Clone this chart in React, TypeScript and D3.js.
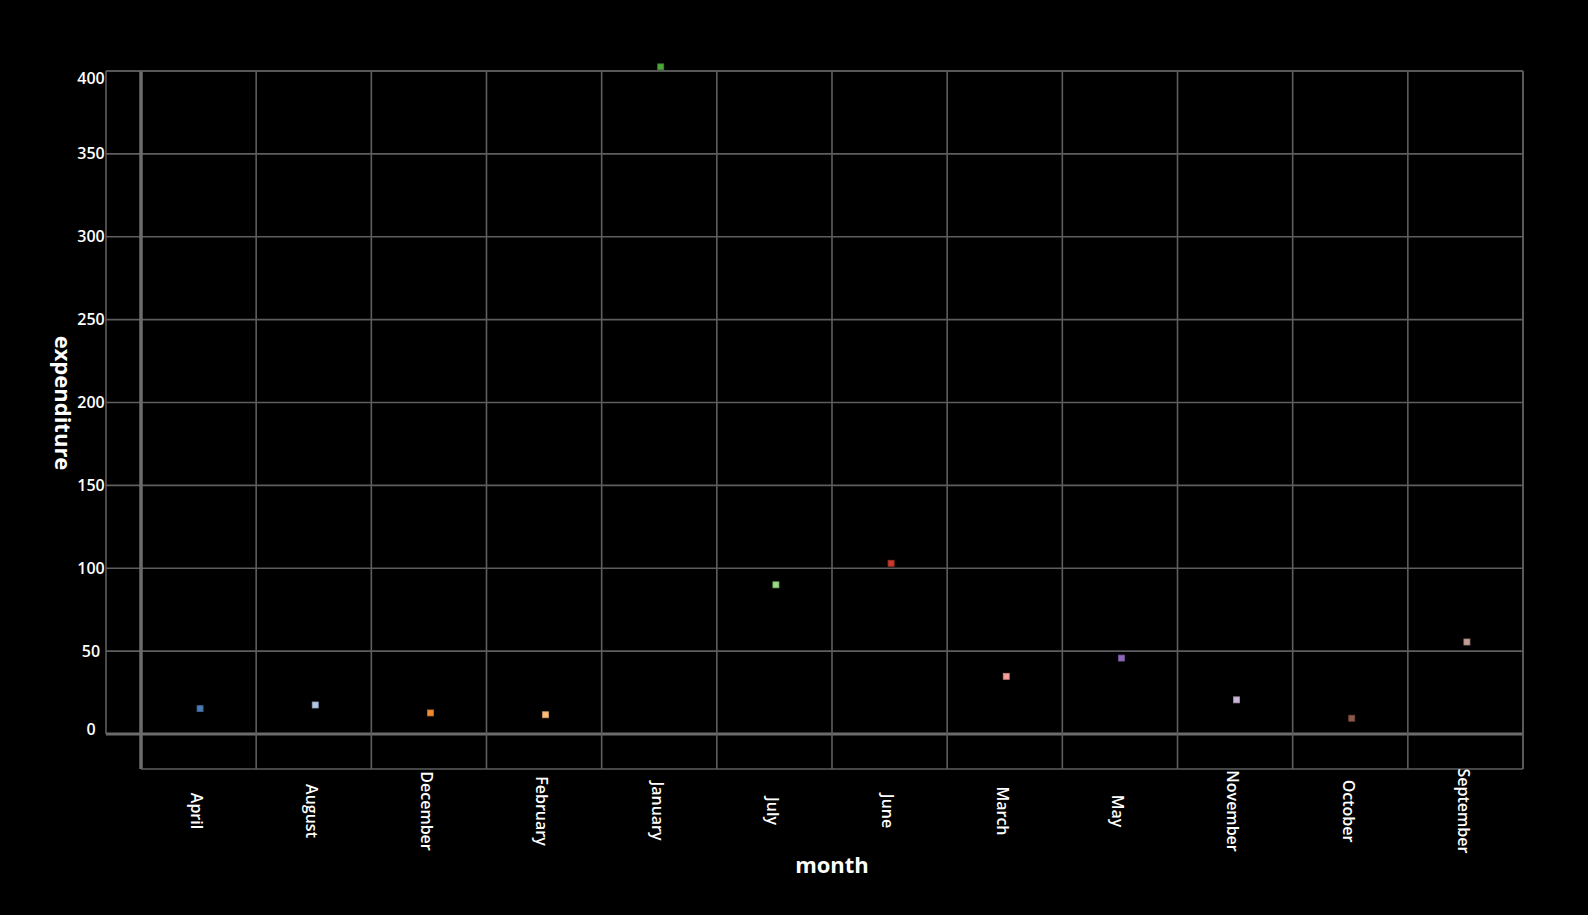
import React from "react";
import * as d3 from "d3";

const months = ["April", "August", "December", "February", "January", "July", "June", "March", "May", "November", "October", "September"];
const expenditure = [15.3, 17.5, 12.7, 11.6, 402.5, 90, 103, 34.8, 45.8, 20.6, 9.5, 55.5];
const colors = ["#4a7bb7", "#b3c7e6", "#f08a30", "#fdbb78", "#4ea53a", "#9ad985", "#c8392c", "#f5a09a", "#8f67bb", "#c9b6d8", "#8c5a4b", "#c79e95"];
const yTicks = [0, 50, 100, 150, 200, 250, 300, 350, 400];

const W = 1588, H = 915;
const left = 106, xStart = 141, right = 1523, top = 71, bottom = 769;
const FONT = "'Open Sans', 'Noto Sans', sans-serif";

export default function App() {
  React.useEffect(() => {
    document.body.style.background = "#000";
    document.body.style.margin = "0";
  }, []);
  const x = d3.scaleBand<string>().domain(months).range([xStart, right]).paddingInner(0).paddingOuter(0);
  const y = d3.scaleLinear().domain([0, 400]).range([734, top]);
  const thin = "#5e5e5e";
  const thick = "#6c6c6c";
  const bounds = months.map((m) => x(m) as number).concat([right]);
  return (
    <svg width={W} height={H} style={{ position: "absolute", left: 0, top: 0, background: "#000" }}>
      <rect x={0} y={0} width={W} height={H} fill="#000" />
      {yTicks.map((t) => (
        <line key={"h" + t} x1={left} x2={right} y1={y(t)} y2={y(t)} stroke={t === 0 ? thick : thin} strokeWidth={t === 0 ? 3 : 1.6} />
      ))}
      {bounds.map((b, i) => (
        <line key={"v" + i} x1={b} x2={b} y1={top} y2={bottom} stroke={i === 0 ? thick : thin} strokeWidth={i === 0 ? 3.5 : 1.6} />
      ))}
      <line x1={left} x2={right} y1={top} y2={top} stroke={thin} strokeWidth={1.6} />
      <line x1={left} x2={left} y1={top} y2={y(0)} stroke={thin} strokeWidth={1.6} />
      <line x1={xStart} x2={right} y1={bottom} y2={bottom} stroke={thin} strokeWidth={1.6} />
      <line x1={right} x2={right} y1={top} y2={bottom} stroke={thin} strokeWidth={1.6} />
      {yTicks.map((t) => {
        let cy = y(t);
        if (t === 400) cy += 7;
        if (t === 0) cy -= 5;
        return (
          <text key={"yl" + t} x={91} y={cy} dy="0.35em" textAnchor="middle" fill="#fff" fontFamily={FONT} fontWeight={600} fontSize={16}>
            {t}
          </text>
        );
      })}
      {months.map((m) => {
        const cx = (x(m) as number) + x.bandwidth() / 2;
        return (
          <text key={"xl" + m} transform={`translate(${cx - 2},811) rotate(90)`} textAnchor="middle" dy="0.35em" fill="#fff" fontFamily={FONT} fontWeight={600} fontSize={16}>
            {m}
          </text>
        );
      })}
      {months.map((m, i) => {
        const cx = (x(m) as number) + x.bandwidth() / 2 + 1.5;
        const cy = y(expenditure[i]);
        return <rect key={"p" + m} x={cx - 3} y={cy - 3} width={6} height={6} fill={colors[i]} stroke={d3.color(colors[i])!.darker(0.6).toString()} strokeWidth={0.8} />;
      })}
      <text x={(xStart + right) / 2} y={873} textAnchor="middle" fill="#fff" fontFamily={FONT} fontWeight={700} fontSize={22}>
        month
      </text>
      <text transform={`translate(63,403) rotate(90)`} textAnchor="middle" dy="0.35em" fill="#fff" fontFamily={FONT} fontWeight={700} fontSize={22}>
        expenditure
      </text>
    </svg>
  );
}
